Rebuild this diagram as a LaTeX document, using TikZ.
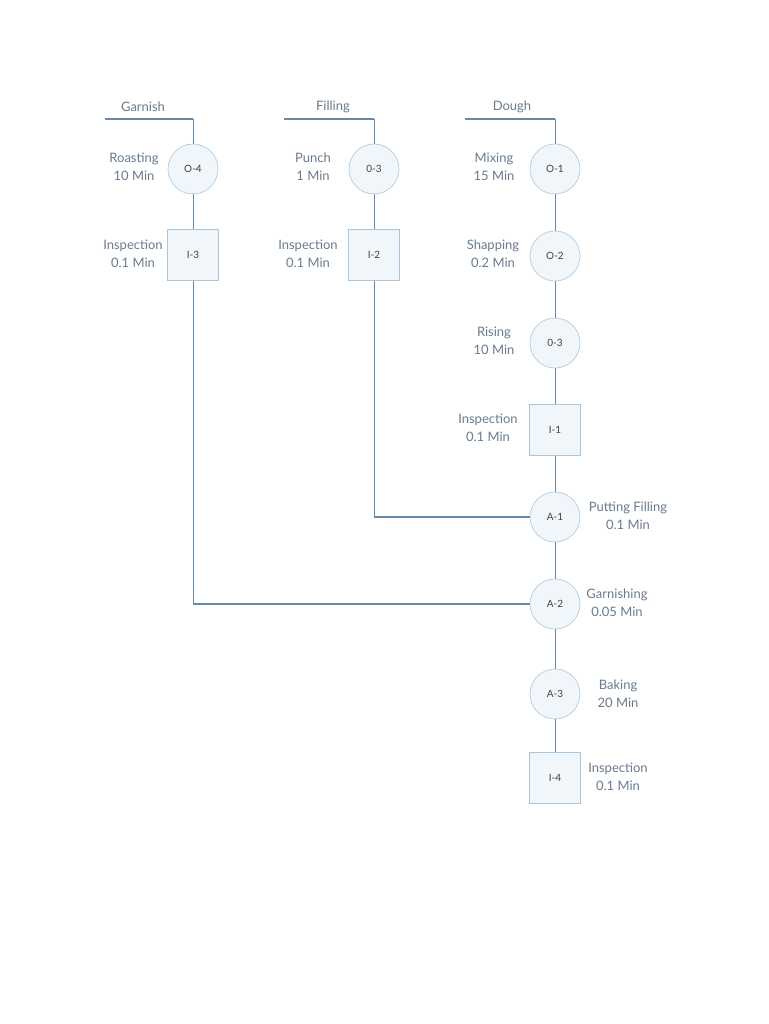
\documentclass[tikz,border=0pt]{standalone}
\usepackage{fontspec}
\setmainfont{Lato}
\begin{document}
\begin{tikzpicture}[x=1pt,y=-1pt,
  op/.style={circle,draw=boxline,fill=boxfill,line width=0.6pt,minimum size=50pt,inner sep=0pt,font=\fontsize{10}{12}\selectfont,text=black!75},
  insp/.style={rectangle,draw=boxline,fill=boxfill,line width=0.6pt,minimum size=51pt,inner sep=0pt,font=\fontsize{10}{12}\selectfont,text=black!75},
  lab/.style={align=center,font=\fontsize{13}{18}\selectfont,text=labtext,inner sep=0pt},
  flow/.style={draw=flowline,line width=0.9pt},
  mergeline/.style={draw=flowline,line width=1.4pt},
  head/.style={draw=flowline,line width=1.6pt}]
\definecolor{boxline}{HTML}{A9C6DE}
\definecolor{boxfill}{HTML}{F1F6FB}
\definecolor{flowline}{HTML}{6688AB}
\definecolor{labtext}{HTML}{6A7B8F}
\useasboundingbox (0,0) rectangle (768,1024);
\fill[white] (0,0) rectangle (768,1024);
% coordinates for header lines and corners
\coordinate (g0) at (105,119);
\coordinate (g1) at (193,119);
\coordinate (f0) at (284,119);
\coordinate (f1) at (374,119);
\coordinate (d0) at (465,119);
\coordinate (d1) at (555,119);
\coordinate (gc) at (193,604);
\coordinate (fc) at (374,517);
% nodes
\node[op] (o4) at (193,169) {O-4};
\node[insp] (i3) at (193,255) {I-3};
\node[op] (o3b) at (374,169) {0-3};
\node[insp] (i2) at (374,255) {I-2};
\node[op] (o1) at (555,169) {O-1};
\node[op] (o2) at (555,256) {O-2};
\node[op] (o3) at (555,343) {0-3};
\node[insp] (i1) at (555,430) {I-1};
\node[op] (a1) at (555,517) {A-1};
\node[op] (a2) at (555,604) {A-2};
\node[op] (a3) at (555,694) {A-3};
\node[insp] (i4) at (555,778) {I-4};
% connectors
\draw[head] (g0) -- (g1);
\draw[head] (f0) -- (f1);
\draw[head] (d0) -- (d1);
\draw[flow] (g1) -- (o4);
\draw[flow] (o4) -- (i3);
\draw[flow] (i3) -- (gc);
\draw[mergeline] (gc) -- (a2);
\draw[flow] (f1) -- (o3b);
\draw[flow] (o3b) -- (i2);
\draw[flow] (i2) -- (fc);
\draw[mergeline] (fc) -- (a1);
\draw[flow] (d1) -- (o1);
\draw[flow] (o1) -- (o2);
\draw[flow] (o2) -- (o3);
\draw[flow] (o3) -- (i1);
\draw[flow] (i1) -- (a1);
\draw[flow] (a1) -- (a2);
\draw[flow] (a2) -- (a3);
\draw[flow] (a3) -- (i4);
% labels
\node[lab] (lg) at (143,107) {Garnish};
\node[lab] (lf) at (333,107) {Filling};
\node[lab] (ld) at (512,107) {Dough};
\node[lab] (l1) at (134,167) {Roasting\\10 Min};
\node[lab] (l2) at (133,254) {Inspection\\0.1 Min};
\node[lab] (l3) at (313,167) {Punch\\1 Min};
\node[lab] (l4) at (308,254) {Inspection\\0.1 Min};
\node[lab] (l5) at (494,167) {Mixing\\15 Min};
\node[lab] (l6) at (493,254) {Shapping\\0.2 Min};
\node[lab] (l7) at (494,341) {Rising\\10 Min};
\node[lab] (l8) at (488,428) {Inspection\\0.1 Min};
\node[lab] (l9) at (628,516) {Putting Filling\\0.1 Min};
\node[lab] (l10) at (617,603) {Garnishing\\0.05 Min};
\node[lab] (l11) at (618,694) {Baking\\20 Min};
\node[lab] (l12) at (618,777) {Inspection\\0.1 Min};
\end{tikzpicture}
\end{document}
